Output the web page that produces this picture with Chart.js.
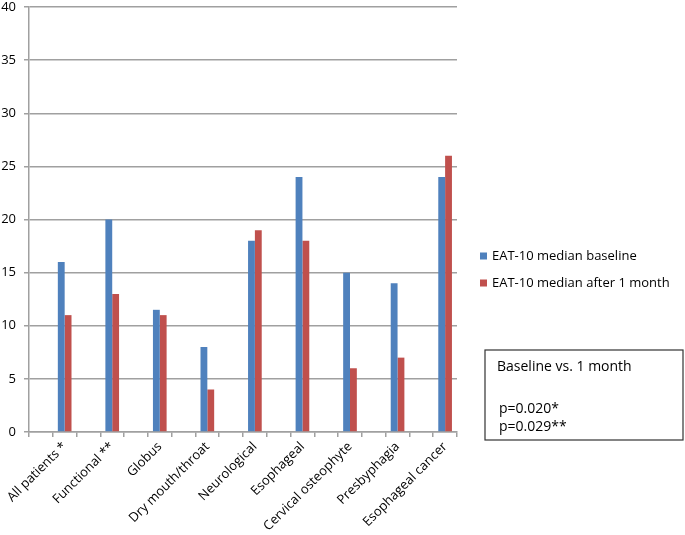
<!DOCTYPE html>
<html>
<head>
<meta charset="utf-8">
<script src="https://cdn.jsdelivr.net/npm/chart.js@4.4.1/dist/chart.umd.min.js"></script>
<style>
  html, body { margin: 0; padding: 0; background: #fff; }
  #wrap { width: 685px; height: 535px; }
</style>
</head>
<body>
<div id="wrap"><canvas id="eatChart" width="685" height="535"></canvas></div>
<script>
let categories = ["All patients *", "Functional **", "Globus", "Dry mouth/throat", "Neurological",
    "Esophageal", "Cervical osteophyte", "Presbyphagia", "Esophageal cancer"];
let baselineValues = [16, 20, 11.5, 8, 18, 24, 15, 14, 24];
let oneMonthValues = [11, 13, 11, 4, 19, 18, 6, 7, 26];
let yTicks = [0, 5, 10, 15, 20, 25, 30, 35, 40];
let seriesNames = ["EAT-10 median baseline", "EAT-10 median after 1 month"];
let boxLines = ["Baseline vs. 1 month", "", "p=0.020*", "p=0.029**"];

let barColors = ["#4F81BD", "#C0504D"];
let fontFamily = "'Open Sans', 'DejaVu Sans', sans-serif";

// the original sheet has an empty slot before each category
function spaced(arr, blank) {
    let out = [];
    arr.forEach(function (v) {
        out.push(blank);
        out.push(v);
    });
    return out;
}

let sideNotes = {
    id: "sideNotes",
    afterDraw: function (chart) {
        let ctx = chart.ctx;
        ctx.save();
        ctx.font = "13px " + fontFamily;
        ctx.textBaseline = "middle";
        ctx.textAlign = "left";
        let legendY = [256, 283];
        chart.data.datasets.forEach(function (ds, i) {
            ctx.fillStyle = ds.backgroundColor;
            ctx.fillRect(480, legendY[i] - 3.5, 7, 7);
            ctx.fillStyle = "#000";
            ctx.fillText(ds.label, 492, legendY[i]);
        });

        ctx.strokeStyle = "#333";
        ctx.lineWidth = 1.2;
        ctx.strokeRect(485, 350, 198, 90);
        ctx.fillStyle = "#000";
        ctx.font = "14px " + fontFamily;
        let lineY = [367, 385, 409, 427];
        boxLines.forEach(function (t, i) {
            if (t) ctx.fillText(t, i === 0 ? 497 : 499, lineY[i]);
        });
        ctx.restore();
    }
};

new Chart("eatChart", {
    type: "bar",
    data: {
        labels: spaced(categories, ""),
        datasets: [{
            label: seriesNames[0],
            backgroundColor: barColors[0],
            data: spaced(baselineValues, null)
        }, {
            label: seriesNames[1],
            backgroundColor: barColors[1],
            data: spaced(oneMonthValues, null)
        }]
    },
    options: {
        responsive: false,
        animation: false,
        devicePixelRatio: 1,
        layout: { padding: { left: 0, right: 228, top: 7, bottom: 0 } },
        datasets: {
            bar: { categoryPercentage: 0.575, barPercentage: 1, skipNull: false }
        },
        plugins: {
            legend: { display: false },
            tooltip: { enabled: false }
        },
        scales: {
            x: {
                offset: true,
                grid: {
                    offset: true,
                    drawOnChartArea: false,
                    drawTicks: true,
                    tickLength: 5,
                    color: "#a0a0a0",
                    lineWidth: 1.5
                },
                border: { color: "#a0a0a0", width: 1.5 },
                ticks: {
                    autoSkip: false,
                    minRotation: 45,
                    maxRotation: 45,
                    padding: 2,
                    color: "#000",
                    font: { family: fontFamily, size: 13 }
                },
                afterFit: function (scale) {
                    scale.height = 103;
                    scale.paddingLeft = 0;
                    scale.paddingRight = 0;
                }
            },
            y: {
                min: 0,
                max: 40,
                afterBuildTicks: function (scale) {
                    scale.ticks = yTicks.map(function (v) { return { value: v }; });
                },
                grid: {
                    color: "#a0a0a0",
                    lineWidth: 1.5,
                    tickLength: 5
                },
                border: { color: "#a0a0a0", width: 1.5 },
                ticks: {
                    padding: 8,
                    color: "#000",
                    font: { family: fontFamily, size: 13 }
                },
                afterFit: function (scale) {
                    scale.width = 29;
                    scale.paddingTop = 0;
                    scale.paddingBottom = 0;
                }
            }
        }
    },
    plugins: [sideNotes]
});
</script>
</body>
</html>
